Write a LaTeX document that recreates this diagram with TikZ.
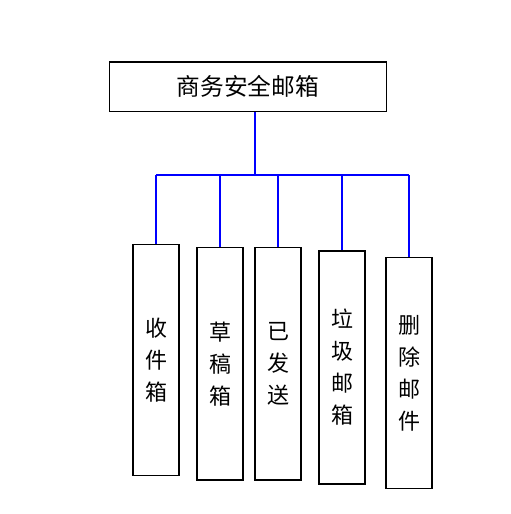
\documentclass[tikz,border=0pt]{standalone}
\usepackage{fontspec}
\newfontfamily\cjk{Noto Sans CJK SC}
\begin{document}
\begin{tikzpicture}[x=1pt,y=-1pt,
  titlebox/.style={draw=black,line width=1.4pt,fill=white,minimum width=277pt,minimum height=49.5pt,inner sep=0pt,font=\cjk\fontsize{23.7pt}{28pt}\selectfont},
  leafbox/.style={draw=black,line width=1.4pt,fill=white,minimum width=46pt,inner sep=0pt,align=center,font=\cjk\fontsize{22pt}{32pt}\selectfont},
  conn/.style={draw=blue,line width=1.2pt}]
\useasboundingbox (0,0) rectangle (511,514);
\node[titlebox] (top) at (247.8,86.7) {商务安全邮箱};
\node[leafbox,minimum height=231.4pt] (b1) at (156,360) {收\\件\\箱};
\node[leafbox,minimum height=232.3pt] (b2) at (220,363.8) {草\\稿\\箱};
\node[leafbox,minimum height=232.3pt] (b3) at (278,363.8) {已\\发\\送};
\node[leafbox,minimum height=233pt] (b4) at (342,367.5) {垃\\圾\\邮\\箱};
\node[leafbox,minimum height=231pt] (b5) at (409,373.2) {删\\除\\邮\\件};
\coordinate (j) at (255,175);
\draw[conn] (top.south -| j) -- (j);
\draw[conn] (b1.north |- j) -- (b5.north |- j);
\foreach \b in {b1,b2,b3,b4,b5}
  \draw[conn] (\b.north |- j) -- (\b.north);
\end{tikzpicture}
\end{document}
